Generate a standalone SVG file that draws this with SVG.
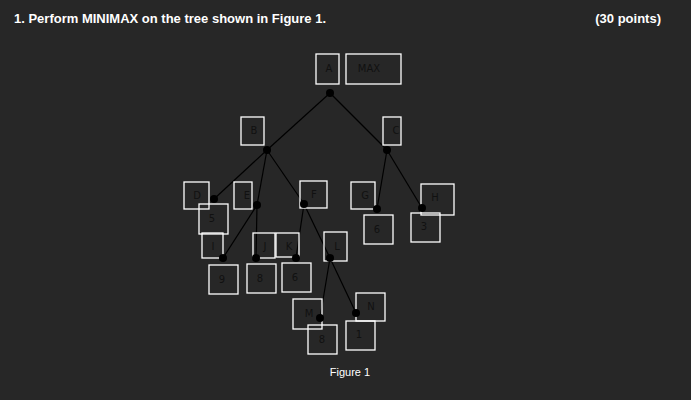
<svg xmlns="http://www.w3.org/2000/svg" width="691" height="400" viewBox="0 0 691 400">
<style>
.b{fill:none;stroke:#fff;stroke-width:1.3}
.t{font-family:"DejaVu Sans",sans-serif;font-size:10px;fill:#111;text-anchor:middle}
.e{stroke:#000;stroke-width:1.2}
.d{fill:#000}
.h{font-family:"Liberation Sans",Arial,sans-serif;font-size:13px;font-weight:bold;fill:#fff}
</style>
<rect width="691" height="400" fill="#272727"/>
<text class="h" x="14" y="23">1.   Perform MINIMAX on the tree shown in Figure 1.</text>
<text class="h" x="661" y="23" text-anchor="end">(30 points)</text>
<text x="350" y="376" font-family="Liberation Sans,Arial,sans-serif" font-size="11" fill="#fff" text-anchor="middle">Figure 1</text>
<g id="connectors">
<line class="e" x1="330" y1="93" x2="267" y2="150"/>
<line class="e" x1="330" y1="93" x2="387" y2="150"/>
<line class="e" x1="267" y1="150" x2="214" y2="199"/>
<line class="e" x1="267" y1="150" x2="257" y2="205"/>
<line class="e" x1="267" y1="150" x2="304" y2="204"/>
<line class="e" x1="257" y1="205" x2="223" y2="258"/>
<line class="e" x1="257" y1="205" x2="256" y2="258"/>
<line class="e" x1="304" y1="204" x2="296" y2="258"/>
<line class="e" x1="304" y1="204" x2="330" y2="258"/>
<line class="e" x1="330" y1="258" x2="320" y2="318"/>
<line class="e" x1="330" y1="258" x2="356" y2="313"/>
<line class="e" x1="387" y1="150" x2="377" y2="209"/>
<line class="e" x1="387" y1="150" x2="422" y2="208"/>
</g>
<g id="A"><rect class="b" x="316" y="54" width="23" height="30"/><text class="t" x="329" y="72">A</text><circle class="d" cx="330" cy="93" r="4"/></g>
<g id="MAX"><rect class="b" x="346" y="54" width="55" height="30"/><text class="t" x="369" y="72">MAX</text></g>
<g id="B"><rect class="b" x="241" y="117" width="23" height="28"/><text class="t" x="254" y="134">B</text><circle class="d" cx="267" cy="150" r="4"/></g>
<g id="C"><rect class="b" x="383" y="117" width="18" height="28"/><text class="t" x="396" y="134">C</text><circle class="d" cx="387" cy="150" r="4"/></g>
<g id="D"><rect class="b" x="184" y="182" width="25" height="27"/><text class="t" x="197" y="199">D</text><circle class="d" cx="214" cy="199" r="4"/></g>
<g id="v5"><rect class="b" x="199" y="204" width="29" height="30"/><text class="t" x="212" y="222">5</text></g>
<g id="E"><rect class="b" x="234" y="182" width="18" height="27"/><text class="t" x="247" y="199">E</text><circle class="d" cx="257" cy="205" r="4"/></g>
<g id="F"><rect class="b" x="300" y="181" width="27" height="27"/><text class="t" x="314" y="198">F</text><circle class="d" cx="304" cy="204" r="4"/></g>
<g id="I"><rect class="b" x="202" y="233" width="21" height="25"/><text class="t" x="213" y="250">I</text><circle class="d" cx="223" cy="258" r="4"/></g>
<g id="v9"><rect class="b" x="209" y="265" width="29" height="29"/><text class="t" x="222" y="283">9</text></g>
<g id="J"><rect class="b" x="253" y="233" width="22" height="25"/><text class="t" x="265" y="250">J</text><circle class="d" cx="256" cy="258" r="4"/></g>
<g id="v8a"><rect class="b" x="247" y="264" width="29" height="29"/><text class="t" x="260" y="282">8</text></g>
<g id="K"><rect class="b" x="276" y="233" width="23" height="24"/><text class="t" x="289" y="250">K</text><circle class="d" cx="296" cy="258" r="4"/></g>
<g id="v6a"><rect class="b" x="282" y="263" width="29" height="29"/><text class="t" x="295" y="281">6</text></g>
<g id="L"><rect class="b" x="324" y="232" width="23" height="29"/><text class="t" x="337" y="250">L</text><circle class="d" cx="330" cy="258" r="4"/></g>
<g id="G"><rect class="b" x="351" y="182" width="24" height="27"/><text class="t" x="365" y="199">G</text><circle class="d" cx="377" cy="209" r="4"/></g>
<g id="v6b"><rect class="b" x="364" y="215" width="29" height="29"/><text class="t" x="377" y="233">6</text></g>
<g id="H"><rect class="b" x="421" y="184" width="33" height="31"/><text class="t" x="435" y="201">H</text><circle class="d" cx="422" cy="208" r="4"/></g>
<g id="v3"><rect class="b" x="411" y="213" width="29" height="29"/><text class="t" x="424" y="230">3</text></g>
<g id="M"><rect class="b" x="293" y="299" width="29" height="30"/><text class="t" x="309" y="317">M</text><circle class="d" cx="320" cy="318" r="4"/></g>
<g id="v8b"><rect class="b" x="308" y="325" width="29" height="29"/><text class="t" x="322" y="343">8</text></g>
<g id="N"><rect class="b" x="356" y="293" width="29" height="28"/><text class="t" x="371" y="310">N</text><circle class="d" cx="356" cy="313" r="4"/></g>
<g id="v1"><rect class="b" x="346" y="321" width="29" height="29"/><text class="t" x="359" y="338">1</text></g>
</svg>
